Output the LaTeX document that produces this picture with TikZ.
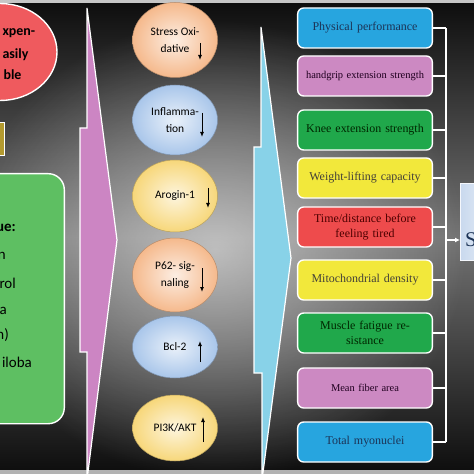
\documentclass[tikz,border=0pt]{standalone}
\usepackage{fontspec}
\setmainfont{Liberation Serif}
\newfontfamily\calibri{Carlito}
\usetikzlibrary{
  shapes.geometric,
  fadings,
  arrows.meta % for the trend arrows
}

\definecolor{peach}{HTML}{F5B98C}
\definecolor{skyball}{HTML}{A9C6EA}
\definecolor{cream}{HTML}{F7D77A}
\definecolor{boxblue}{HTML}{27A5DF}
\definecolor{boxpink}{HTML}{CC89C2}
\definecolor{boxgreen}{HTML}{20A84B}
\definecolor{boxyellow}{HTML}{F2E83B}
\definecolor{boxred}{HTML}{EE4B4C}
\definecolor{arrowpink}{HTML}{CC85C3}
\definecolor{arrowblue}{HTML}{88D2E8}
\definecolor{remedygreen}{HTML}{5EBF62}
\definecolor{costred}{HTML}{EF5A5E}
\definecolor{olive}{HTML}{B39A2F}
\definecolor{navy}{HTML}{1C3356}
\definecolor{paleblue}{HTML}{C9D9EE}

\tikzfading[name=glow, inner color=transparent!0, outer color=transparent!100]

\begin{document}
\begin{tikzpicture}[
  x=1bp, y=-1bp,
  marker/.style={
     ellipse,
     minimum width=85bp,
     minimum height=72bp,
     inner sep=0pt,
     align=center,
     font=\calibri\fontsize{11.5}{17}\selectfont,
     inner color=#1!25!white,
     outer color=#1,
     draw=#1!75!black,
     line width=.5pt
  },
  trend/.style={-{Latex[length=5bp,width=4bp]}, line width=1pt},
  result/.style={
     rectangle,
     rounded corners=6bp,
     draw=white,
     line width=1.4pt,
     fill=#1,
     minimum width=133bp,
     minimum height=40bp,
     text width=128bp,
     align=center,
     font=\fontsize{12}{14.5}\selectfont
  },
  bus/.style={draw=white, line width=1.2pt},
  pointer/.style={white, line width=1.2pt}
]
   \clip (0,0) rectangle (474,474);

   % the dark backdrop with its light middle
   \shade[top color=black!95, bottom color=black!95, middle color=black!55] (0,0) rectangle (474,474);
   \fill[white, opacity=.55, path fading=glow] (215,250) ellipse [x radius=250, y radius=230];
   \fill[gray!45] (0,0) rectangle (474,3);
   \fill[gray!60] (0,470) rectangle (474,474);

   % left column, cut by the frame
   \node[ellipse, draw=white, line width=1.4pt, fill=costred, minimum width=114bp, minimum height=97bp] (cost) at (0,52) {};
   \node[font=\calibri\bfseries\fontsize{14}{16}\selectfont, anchor=west] (costa) at (-1,33) {xpen-};
   \node[font=\calibri\bfseries\fontsize{14}{16}\selectfont, anchor=west] (costb) at (-1,55) {asily};
   \node[font=\calibri\bfseries\fontsize{14}{16}\selectfont, anchor=west] (costc) at (0,75) {ble};
   \node[draw=white, line width=1pt, fill=olive, minimum width=16bp, minimum height=33bp, anchor=north east] (tag) at (5,122) {};
   \node[draw=white, line width=1.4pt, fill=remedygreen, rounded corners=16bp, minimum width=110bp, minimum height=250bp, anchor=north east] (remedy) at (65,173) {};
   \node[font=\calibri\bfseries\fontsize{15}{18}\selectfont, anchor=east, inner sep=0pt] (rema) at (16,228) {ue:};
   \node[font=\calibri\fontsize{15}{18}\selectfont, anchor=east, inner sep=0pt] (remb) at (6,256) {n};
   \node[font=\calibri\fontsize{15}{18}\selectfont, anchor=east, inner sep=0pt] (remc) at (16,283) {rol};
   \node[font=\calibri\fontsize{15}{18}\selectfont, anchor=east, inner sep=0pt] (remd) at (7,311) {a};
   \node[font=\calibri\fontsize{15}{18}\selectfont, anchor=east, inner sep=0pt] (reme) at (9,335) {n)};
   \node[font=\calibri\fontsize{15}{18}\selectfont, anchor=east, inner sep=0pt] (remf) at (32,362) {iloba};

   % the two big pointers
   \draw[pointer, fill=arrowpink] (87,8) -- (117,240) -- (87,480) -- (87,352) -- (80,352) -- (80,128) -- (87,128) -- cycle;
   \draw[pointer, fill=arrowblue] (261,27) -- (291,258) -- (262,480) -- (262,373) -- (254,373) -- (254,147) -- (261,147) -- cycle;

   % the markers
   \node[marker=peach, minimum height=75bp] (oxid) at (175,40) {Stress Oxi-\\dative};
   \node[marker=skyball, minimum height=70bp] (inflam) at (175,120) {Inflamma-\\tion};
   \node[marker=cream] (arogin) at (175,196) {Arogin-1};
   \node[marker=peach, minimum height=74bp] (psig) at (175,275) {P62- sig-\\naling};
   \node[marker=skyball, minimum height=62bp] (bcl) at (175,347) {Bcl-2};
   \node[marker=cream, minimum height=66bp] (akt) at (175,428) {PI3K/AKT};

   \draw[trend] ([shift={(25,3)}]oxid.center) -- ++(0,17);
   \draw[trend] ([shift={(27,-7)}]inflam.center) -- ++(0,24);
   \draw[trend] ([shift={(33,-8)}]arogin.center) -- ++(0,20);
   \draw[trend] ([shift={(27,-7)}]psig.center) -- ++(0,24);
   \draw[trend] ([shift={(25,15)}]bcl.center) -- ++(0,-21);
   \draw[trend] ([shift={(28,14)}]akt.center) -- ++(0,-25);

   % the outcomes
   \node[result=boxblue, text=navy] (phys) at (365,28) {Physical performance};
   \node[result=boxpink, text=black!75!violet, font=\fontsize{10.5}{12}\selectfont] (grip) at (365,76) {handgrip extension strength};
   \node[result=boxgreen, text=black!85!green] (knee) at (365,130) {Knee extension strength};
   \node[result=boxyellow, text=black!85!yellow] (lift) at (365,178) {Weight-lifting capacity};
   \node[result=boxred, text=black!70!red] (tired) at (365,227) {Time/distance before\\feeling tired};
   \node[result=boxyellow, text=black!85!yellow] (mito) at (365,280) {Mitochondrial density};
   \node[result=boxgreen, text=black!85!green] (fatigue) at (365,333) {Muscle fatigue re-\\sistance};
   \node[result=boxpink, text=black!75!violet, font=\fontsize{10.5}{12}\selectfont] (fiber) at (365,388) {Mean fiber area};
   \node[result=boxblue, text=navy] (nuclei) at (365,442) {Total myonuclei};

   \node[draw=white!80!paleblue, line width=.6pt, left color=paleblue, right color=white, minimum width=60bp, minimum height=77bp, anchor=north west] (outcome) at (460,183) {};
   \node[font=\fontsize{21}{24}\selectfont, text=navy, anchor=west, inner sep=0pt] (outtext) at (465,240) {S};

   % the bracket that gathers the outcomes
   \coordinate (bustop) at (446,28);
   \coordinate (busmid) at (446,240);
   \foreach \n in {phys,grip,knee,lift,tired,mito,fatigue,fiber,nuclei}
      \draw[bus] (\n.east) -- (\n.east -| bustop);
   \draw[bus] (phys.east -| bustop) -- (nuclei.east -| bustop);
   \draw[bus, -{Latex[length=5bp,width=5bp]}] (busmid) -- (busmid -| outcome.west);
\end{tikzpicture}
\end{document}
